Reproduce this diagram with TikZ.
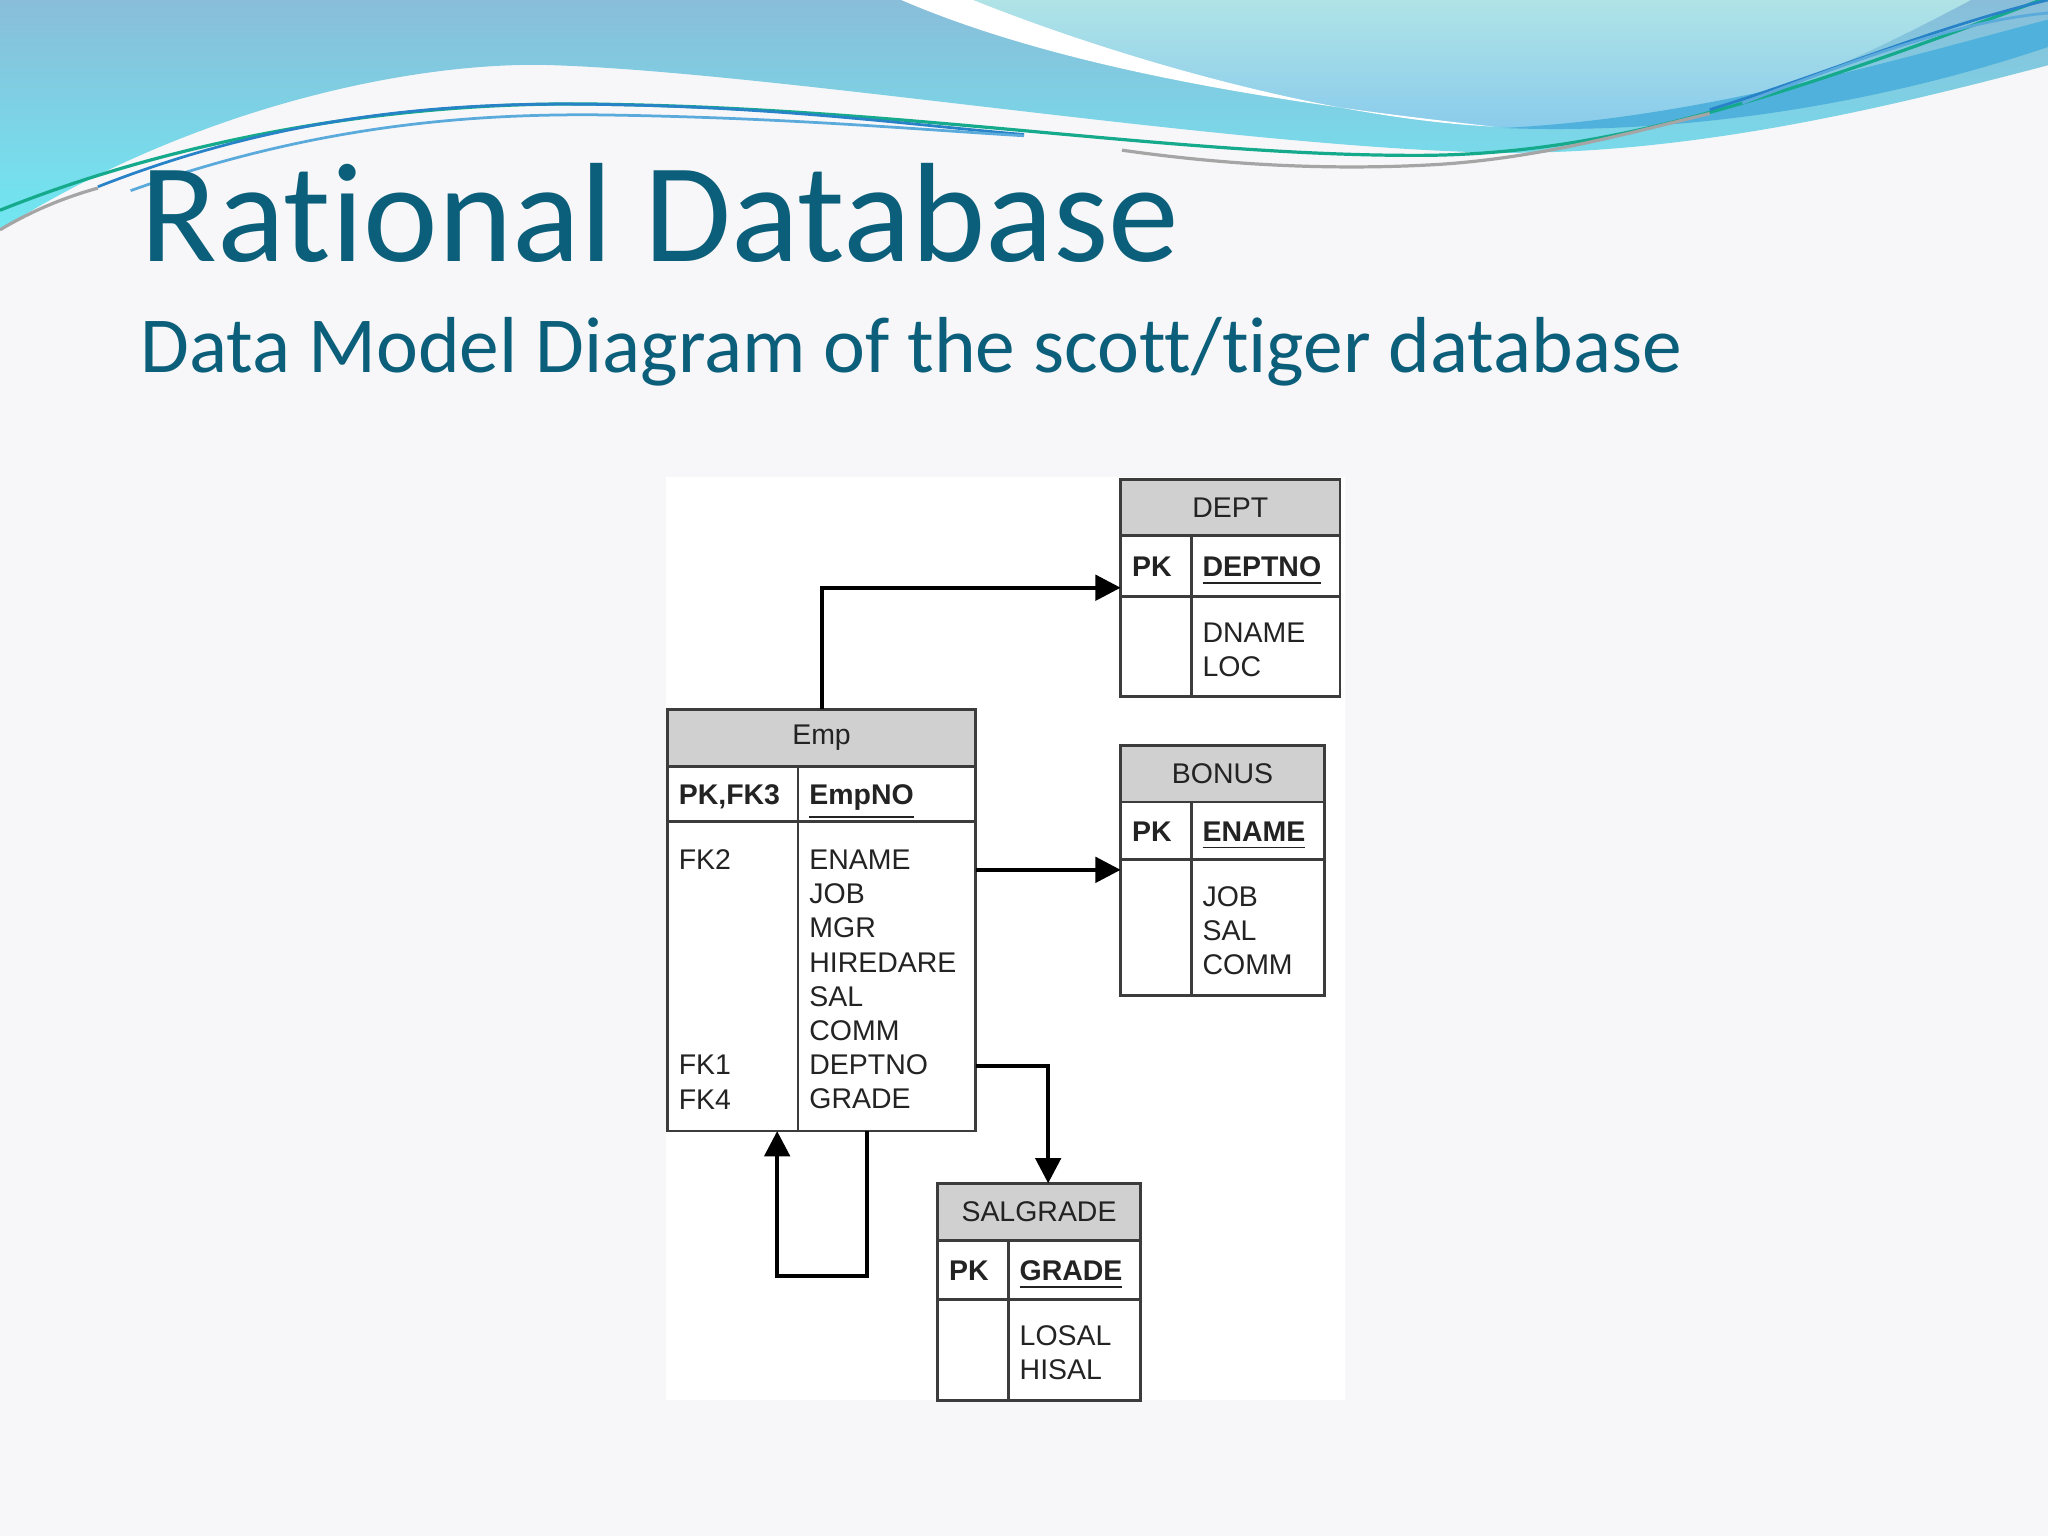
\documentclass[tikz,border=0pt]{standalone}
\usepackage{fontspec}
\setmainfont{Liberation Sans}
\newfontfamily\slidefont[Ligatures=NoCommon]{Carlito}
\usepackage{tikz}
\usetikzlibrary{
        arrows.meta,
        positioning
    }
\definecolor{titleblue}{RGB}{12,95,122}
\definecolor{slidebg}{RGB}{247,247,249}
\definecolor{headgrey}{RGB}{208,208,208}
\definecolor{tabline}{RGB}{60,60,60}
\definecolor{tabtext}{RGB}{35,35,35}
\definecolor{wavetop}{RGB}{137,189,217}
\definecolor{wavebot}{RGB}{112,232,242}
\definecolor{lighttop}{RGB}{175,227,230}
\definecolor{lightbot}{RGB}{137,203,236}
\definecolor{darkband}{RGB}{80,178,220}
\definecolor{linegreen}{RGB}{22,170,140}
\definecolor{linegrey}{RGB}{165,165,165}
\definecolor{lineblue}{RGB}{40,130,200}
\definecolor{lineblue2}{RGB}{90,170,220}
\newcommand{\tabfont}{\fontsize{6.2}{7.45}\selectfont}
\tikzset{>={Triangle[length=5.5pt,width=5.5pt]}}
\tikzset{
  tabhead/.style={draw=tabline,fill=headgrey,line width=0.6pt,inner sep=0pt,outer sep=0pt,anchor=north west,font=\tabfont,text=tabtext},
  tabcell/.style={draw=tabline,fill=white,line width=0.6pt,inner sep=0pt,outer sep=0pt,anchor=north west},
  keytext/.style={anchor=base west,inner sep=0pt,font=\tabfont\bfseries,text=tabtext},
  listtext/.style={anchor=north west,align=left,inner sep=0pt,font=\tabfont,text=tabtext},
  link/.style={->,line width=0.9pt}
}
\begin{document}
\begin{tikzpicture}
    \useasboundingbox (0,0) rectangle (15.68,11.76);
    \clip (0,0) rectangle (15.68,11.76);
    \fill[slidebg] (0,0) rectangle (15.68,11.76);

    % wave header
    \shade[top color=wavetop,bottom color=wavebot]
        (0,11.76) -- (0,10.00) .. controls (1.5,10.95) and (3.2,11.30) .. (4.25,11.26)
        .. controls (6.0,11.20) and (9.5,10.62) .. (11.5,10.59)
        .. controls (13.0,10.58) and (14.5,10.95) .. (15.68,11.26) -- (15.68,11.76) -- cycle;
    \shade[top color=lighttop,bottom color=lightbot]
        (7.45,11.76) .. controls (8.6,11.30) and (10.2,10.85) .. (11.44,10.79)
        .. controls (12.2,10.75) and (12.8,10.80) .. (13.3,10.95)
        .. controls (14.0,11.2) and (14.6,11.5) .. (15.09,11.76) -- cycle;
    \fill[white]
        (7.45,11.76) .. controls (8.6,11.30) and (10.2,10.85) .. (11.44,10.79)
        .. controls (10.0,10.95) and (8.2,11.20) .. (6.90,11.76) -- cycle;
    \fill[darkband]
        (11.5,10.78) .. controls (13.0,10.85) and (14.5,11.3) .. (15.68,11.61)
        -- (15.68,11.40) .. controls (14.5,11.0) and (13.0,10.72) .. (11.5,10.78) -- cycle;
    \draw[linegreen,line width=0.7pt]
        (0,10.15) .. controls (1.5,10.75) and (3.2,11.0) .. (4.7,10.96)
        .. controls (7.0,10.92) and (9.0,10.57) .. (10.84,10.57)
        .. controls (12.3,10.57) and (13.6,11.0) .. (15.68,11.78);
    \draw[linegrey,line width=0.7pt]
        (0,10.00) .. controls (0.25,10.15) and (0.5,10.25) .. (0.75,10.32);
    \draw[linegrey,line width=0.7pt]
        (8.59,10.61) .. controls (9.5,10.48) and (10.3,10.46) .. (11.0,10.50)
        .. controls (11.8,10.55) and (12.5,10.75) .. (13.09,10.89);
    \draw[lineblue,line width=0.6pt]
        (0.75,10.33) .. controls (2.2,10.9) and (3.5,10.98) .. (4.6,10.96)
        .. controls (6.0,10.94) and (7.0,10.80) .. (7.84,10.73);
    \draw[lineblue2,line width=0.6pt]
        (1.0,10.30) .. controls (2.4,10.80) and (3.6,10.89) .. (4.6,10.88)
        .. controls (6.0,10.86) and (7.0,10.77) .. (7.84,10.72);
    \draw[lineblue,line width=0.6pt]
        (13.09,10.92) .. controls (14.0,11.2) and (14.8,11.55) .. (15.68,11.76);
    \draw[lineblue2,line width=0.6pt]
        (13.34,10.97) .. controls (14.2,11.3) and (15.0,11.6) .. (15.68,11.66);

    % titles
    \node[anchor=base west,inner sep=0pt,text=titleblue,font=\slidefont\fontsize{30.8}{36}\selectfont] (title) at (1.07,9.76) {Rational Database};
    \node[anchor=base west,inner sep=0pt,text=titleblue,font=\slidefont\fontsize{17.3}{21}\selectfont] (subtitle) at (1.07,8.91) {Data Model Diagram of the scott/tiger database};

    % diagram sheet
    \fill[white] (5.10,1.04) rectangle (10.30,8.11);

    % Emp
    \node[tabhead,minimum width=2.36cm,minimum height=0.44cm] (emp) at (5.11,6.33) {Emp};
    \node[tabcell,minimum width=1.00cm,minimum height=0.42cm] (emp-pk) at (emp.south west) {};
    \node[tabcell,minimum width=1.36cm,minimum height=0.42cm] (emp-id) at (emp-pk.north east) {};
    \node[tabcell,minimum width=1.00cm,minimum height=2.37cm] (emp-fk) at (emp-pk.south west) {};
    \node[tabcell,minimum width=1.36cm,minimum height=2.37cm] (emp-cols) at (emp-pk.south east) {};
    \node[keytext] (emp-pk-t) at ([shift={(0.08cm,-0.08cm)}]emp-pk.west) {PK,FK3};
    \node[keytext] (emp-id-t) at ([shift={(0.08cm,-0.08cm)}]emp-id.west) {\underline{EmpNO}};
    \node[listtext] (emp-fk-t) at ([shift={(0.08cm,-0.21cm)}]emp-fk.north west) {FK2\\~\\~\\~\\~\\~\\FK1\\FK4};
    \node[listtext] (emp-cols-t) at ([shift={(0.08cm,-0.21cm)}]emp-cols.north west) {ENAME\\JOB\\MGR\\HIREDARE\\SAL\\COMM\\DEPTNO\\GRADE};

    % DEPT
    \node[tabhead,minimum width=1.68cm,minimum height=0.43cm] (dept) at (8.58,8.09) {DEPT};
    \node[tabcell,minimum width=0.54cm,minimum height=0.47cm] (dept-pk) at (dept.south west) {};
    \node[tabcell,minimum width=1.14cm,minimum height=0.47cm] (dept-id) at (dept-pk.north east) {};
    \node[tabcell,minimum width=0.54cm,minimum height=0.76cm] (dept-fk) at (dept-pk.south west) {};
    \node[tabcell,minimum width=1.14cm,minimum height=0.76cm] (dept-cols) at (dept-pk.south east) {};
    \node[keytext] (dept-pk-t) at ([shift={(0.08cm,-0.08cm)}]dept-pk.west) {PK};
    \node[keytext] (dept-id-t) at ([shift={(0.08cm,-0.08cm)}]dept-id.west) {\underline{DEPTNO}};
    \node[listtext] (dept-cols-t) at ([shift={(0.08cm,-0.19cm)}]dept-cols.north west) {DNAME\\LOC};

    % BONUS
    \node[tabhead,minimum width=1.56cm,minimum height=0.43cm] (bonus) at (8.58,6.05) {BONUS};
    \node[tabcell,minimum width=0.54cm,minimum height=0.44cm] (bonus-pk) at (bonus.south west) {};
    \node[tabcell,minimum width=1.02cm,minimum height=0.44cm] (bonus-id) at (bonus-pk.north east) {};
    \node[tabcell,minimum width=0.54cm,minimum height=1.04cm] (bonus-fk) at (bonus-pk.south west) {};
    \node[tabcell,minimum width=1.02cm,minimum height=1.04cm] (bonus-cols) at (bonus-pk.south east) {};
    \node[keytext] (bonus-pk-t) at ([shift={(0.08cm,-0.08cm)}]bonus-pk.west) {PK};
    \node[keytext] (bonus-id-t) at ([shift={(0.08cm,-0.08cm)}]bonus-id.west) {\underline{ENAME}};
    \node[listtext] (bonus-cols-t) at ([shift={(0.08cm,-0.20cm)}]bonus-cols.north west) {JOB\\SAL\\COMM};

    % SALGRADE
    \node[tabhead,minimum width=1.55cm,minimum height=0.44cm] (salgrade) at (7.18,2.70) {SALGRADE};
    \node[tabcell,minimum width=0.54cm,minimum height=0.45cm] (salgrade-pk) at (salgrade.south west) {};
    \node[tabcell,minimum width=1.01cm,minimum height=0.45cm] (salgrade-id) at (salgrade-pk.north east) {};
    \node[tabcell,minimum width=0.54cm,minimum height=0.77cm] (salgrade-fk) at (salgrade-pk.south west) {};
    \node[tabcell,minimum width=1.01cm,minimum height=0.77cm] (salgrade-cols) at (salgrade-pk.south east) {};
    \node[keytext] (salgrade-pk-t) at ([shift={(0.08cm,-0.08cm)}]salgrade-pk.west) {PK};
    \node[keytext] (salgrade-id-t) at ([shift={(0.08cm,-0.08cm)}]salgrade-id.west) {\underline{GRADE}};
    \node[listtext] (salgrade-cols-t) at ([shift={(0.08cm,-0.19cm)}]salgrade-cols.north west) {LOSAL\\HISAL};

    % relations
    \coordinate (dept-in) at ([yshift=0.07cm]dept-pk.south west);
    \coordinate (bonus-in) at ([yshift=-0.08cm]bonus-fk.north west);
    \coordinate (salgrade-in) at ([xshift=0.07cm]salgrade.north);
    \coordinate (emp-out) at ([yshift=-1.87cm]emp-cols.north east);
    \coordinate (loop-out) at ([xshift=0.53cm]emp-cols.south west);
    \coordinate (loop-in) at ([xshift=0.84cm]emp-fk.south west);
    \draw[link] (emp.north) |- (dept-in);
    \draw[link] (emp-cols.east |- bonus-in) -- (bonus-in);
    \draw[link] (emp-out) -| (salgrade-in);
    \draw[link] (loop-out) -- ++(0,-1.11) -| (loop-in);
\end{tikzpicture}
\end{document}
